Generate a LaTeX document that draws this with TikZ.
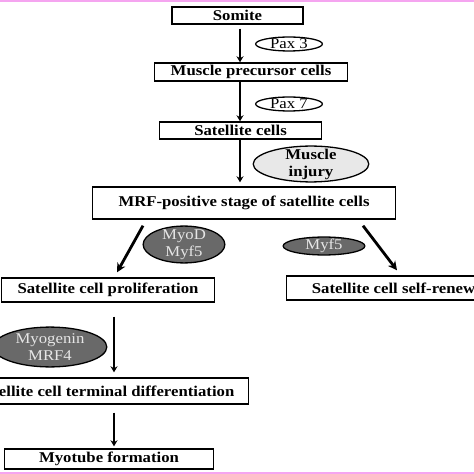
\documentclass[tikz,border=0pt]{standalone}
\usepackage{fontspec}
\setmainfont{Liberation Serif}[FakeStretch=1.12]
\usetikzlibrary{positioning,arrows.meta,shapes.geometric,calc}
\definecolor{pinkbar}{RGB}{245,165,240}
\definecolor{genedark}{RGB}{105,105,105}
\definecolor{genelight}{RGB}{232,232,232}
\definecolor{genetext}{RGB}{230,230,230}
\newcommand{\figfont}{\fontsize{15}{17}\selectfont}

\begin{document}
\begin{tikzpicture}[x=1bp,y=-1bp,font=\figfont,
  stage/.style={draw,line width=1.5bp,inner sep=0pt,font=\figfont\bfseries},
  gene/.style={ellipse,draw,line width=1.3bp,inner sep=0pt},
  down/.style={-{Stealth[length=6bp,width=7bp]},line width=2bp},
  branch/.style={-{Stealth[length=9bp,width=9bp]},line width=2.8bp}]
  \useasboundingbox (0,0) rectangle (474,474);
  \clip (0,0) rectangle (474,474);
  \fill[white] (0,0) rectangle (474,474);
  \fill[pinkbar] (0,0) rectangle (474,2.5);
  \fill[pinkbar] (0,471.5) rectangle (474,474);
  % lineage stages
  \node[stage,minimum width=131,minimum height=17] (somite) at (237.5,15.5) {Somite};
  \node[stage,minimum width=194,minimum height=18] (mpc) at (251,72) {Muscle precursor cells};
  \node[stage,minimum width=163,minimum height=17] (satc) at (240.5,130.5) {Satellite cells};
  \node[stage,minimum width=304,minimum height=32] (mrf) at (244,203) {MRF-positive stage of satellite cells};
  \node[stage,minimum width=214,minimum height=24] (prolif) at (108,290) {Satellite cell proliferation};
  \node[stage,minimum width=228,minimum height=24] (renew) at (400,288) {Satellite cell self-renewal};
  \node[stage,minimum width=288,minimum height=26] (termdiff) at (105,391) {Satellite cell terminal differentiation};
  \node[stage,minimum width=210,minimum height=20] (myotube) at (109,459) {Myotube formation};
  % regulators
  \node[gene,fill=white,minimum width=67,minimum height=14,label={center:Pax 3}] (pax3) at (289,44) {};
  \node[gene,fill=white,minimum width=67,minimum height=14,label={center:Pax 7}] (pax7) at (289,104) {};
  \node[gene,fill=genelight,minimum width=116,minimum height=36,
    label={[align=center,font=\figfont\bfseries]center:Muscle\\injury}] (injury) at (311,164) {};
  \node[gene,fill=genedark,minimum width=82,minimum height=37,
    label={[align=center,text=genetext]center:MyoD\\Myf5}] (myod) at (184,244.5) {};
  \node[gene,fill=genedark,minimum width=82,minimum height=18,
    label={[text=genetext]center:Myf5}] (myf5) at (324,246) {};
  \node[gene,fill=genedark,minimum width=114,minimum height=40,
    label={[align=center,text=genetext]center:Myogenin\\MRF4}] (myog) at (50,347) {};
  % arrows
  \coordinate (spine) at (240,0);
  \coordinate (lane) at (114,0);
  \draw[down,shorten <=4bp] (somite.south -| spine) -- (mpc.north -| spine);
  \draw[down] (mpc.south -| spine) -- (satc.north -| spine);
  \draw[down,shorten >=4bp] (satc.south -| spine) -- (mrf.north -| spine);
  \draw[branch] ([xshift=-101bp,yshift=-6bp]mrf.south) -- ([xshift=9bp,yshift=5bp]prolif.north);
  \draw[branch] ([xshift=119bp,yshift=-6bp]mrf.south) -- ([xshift=-3bp,yshift=5bp]renew.north);
  \draw[down,shorten <=14bp,shorten >=5bp] (prolif.south -| lane) -- (termdiff.north -| lane);
  \draw[down,shorten <=8bp,shorten >=2bp] (termdiff.south -| lane) -- (myotube.north -| lane);
\end{tikzpicture}
\end{document}
